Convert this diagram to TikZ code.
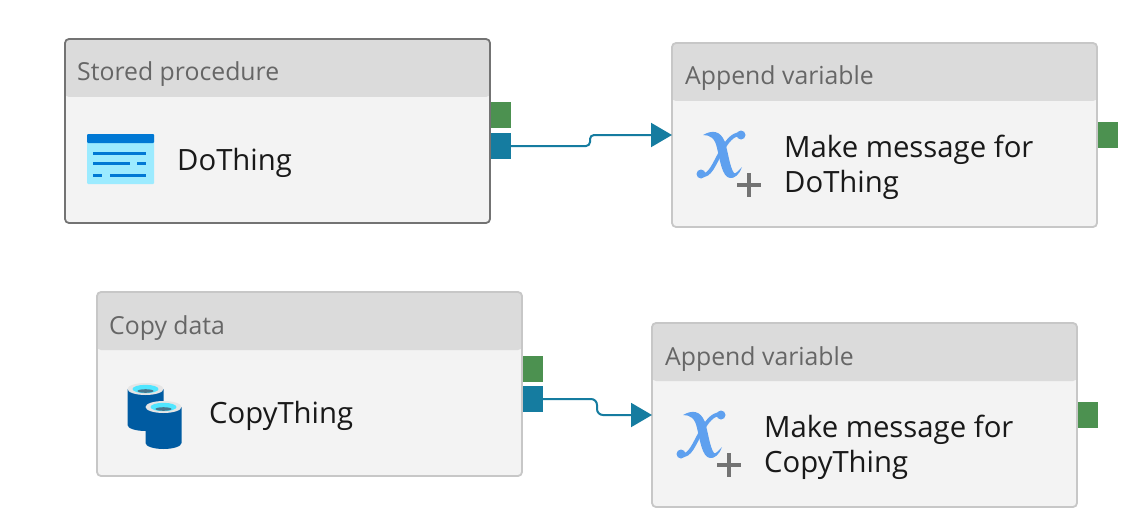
\documentclass[tikz,border=0pt]{standalone}
\usepackage{fontspec}
\setmainfont{Open Sans}
\usetikzlibrary{arrows.meta}
\definecolor{headgray}{HTML}{DBDBDB}
\definecolor{cardgray}{HTML}{F3F3F3}
\definecolor{portgreen}{HTML}{4C9150}
\definecolor{portblue}{HTML}{157CA0}
\definecolor{iconblue}{HTML}{0078D4}
\definecolor{iconsky}{HTML}{9CEBFF}
\definecolor{varblue}{HTML}{5EA0EF}
\definecolor{candark}{HTML}{005BA1}
\definecolor{cancyan}{HTML}{50E6FF}
\tikzset{
card/.style={draw=#1, line width=1.8pt, fill=cardgray, rounded corners=4pt, minimum width=425pt, minimum height=184pt, inner sep=0pt, outer sep=0pt,
  path picture={\fill[headgray](path picture bounding box.north west) rectangle ++(425,58);}},
headtext/.style={anchor=base west, inner sep=0pt, text=black!60, font=\fontsize{24.8}{28}\selectfont},
bodytext/.style={anchor=west, align=left, inner sep=0pt, text=black!90, font=\fontsize{29.3}{35}\selectfont},
port/.style={fill=#1, minimum width=20pt, minimum height=26pt, inner sep=0pt, outer sep=0pt},
link/.style={->, portblue, line width=2pt},
varicon/.pic={
  \fill[varblue](-19,-25) .. controls (-10,-30) and (-2,-30) .. (3,-18) .. controls (6,-8) and (8,8) .. (12,13) .. controls (14,14) and (16,11) .. (20,7) .. controls (18,14) and (12,19) .. (8,18) .. controls (0,17) and (-2,0) .. (-5,-12) .. controls (-7,-22) and (-12,-25) .. (-19,-25) -- cycle;
  \draw[line width=3.8pt, varblue](19,-26) .. controls (10,-26) and (5,-18) .. (0,-10) .. controls (-8,4) and (-12,17) .. (-21,15);
  \fill[varblue](-21,14) circle(4.5);
  \fill[varblue](19,-25) circle(4.5);
  \draw[line width=4.6pt, black!55](15,25) -- (39,25);
  \draw[line width=4.6pt, black!55](27,13) -- (27,37);
},
dbcan/.pic={
  \fill[candark](-18,0) -- (-18,36) arc(180:0:18 and 6) -- (18,0) -- cycle;
  \fill[black!10](0,0) ellipse(18 and 6);
  \fill[cancyan](0,0) ellipse(13 and 4.2);
  \fill[cyan!50!black](0,2) ellipse(8 and 1.8);
}
}
\begin{document}
\begin{tikzpicture}[x=1pt, y=-1pt, >={Triangle[length=21pt,width=24pt]}]
\useasboundingbox(0,0) rectangle (1147,532);
\fill[white](0,0) rectangle (1147,532);
% upper row
\node[card=black!55](procCard) at (277.5,131) {};
\node[headtext](procHead) at (77,81) {Stored procedure};
\node[bodytext](procName) at (177,162.5) {DoThing};
\node[port=portgreen](procOk) at (501,115) {};
\node[port=portblue](procDone) at (501,146) {};
\fill[iconsky, rounded corners=1pt](87,134) rectangle (154,184);
\fill[iconblue, rounded corners=1pt](87,134) rectangle (154,143);
\draw[line width=3pt, iconblue](93,153) -- (146,153);
\draw[line width=3pt, iconblue](93,163) -- (130,163) (137,163) -- (146,163);
\draw[line width=3pt, iconblue](93,175) -- (102,175) (110,175) -- (146,175);
\node[card=black!22](varA) at (884.5,135) {};
\node[headtext](varAHead) at (685,85) {Append variable};
\node[bodytext](varAName) at (784,167.5) {Make message for\\DoThing};
\node[port=portgreen](varAOk) at (1108,135) {};
\pic at (722,160) {varicon};
\draw[link, rounded corners=4pt](procDone.east) -- (590,146) -- (590,135) -- (varA.west);
% lower row
\node[card=black!22](copyCard) at (309.5,384) {};
\node[headtext](copyHead) at (109,334) {Copy data};
\node[bodytext](copyName) at (209,415.5) {CopyThing};
\node[port=portgreen](copyOk) at (533,368.5) {};
\node[port=portblue](copyDone) at (533,399) {};
\pic at (145.5,389) {dbcan};
\pic at (163.5,407) {dbcan};
\node[card=black!22](varB) at (864.5,415) {};
\node[headtext](varBHead) at (665,365) {Append variable};
\node[bodytext](varBName) at (764,447.5) {Make message for\\CopyThing};
\node[port=portgreen](varBOk) at (1088,415) {};
\pic at (702,440) {varicon};
\draw[link, rounded corners=6pt](copyDone.east) -- (597,399) -- (597,415) -- (varB.west);
\end{tikzpicture}
\end{document}
